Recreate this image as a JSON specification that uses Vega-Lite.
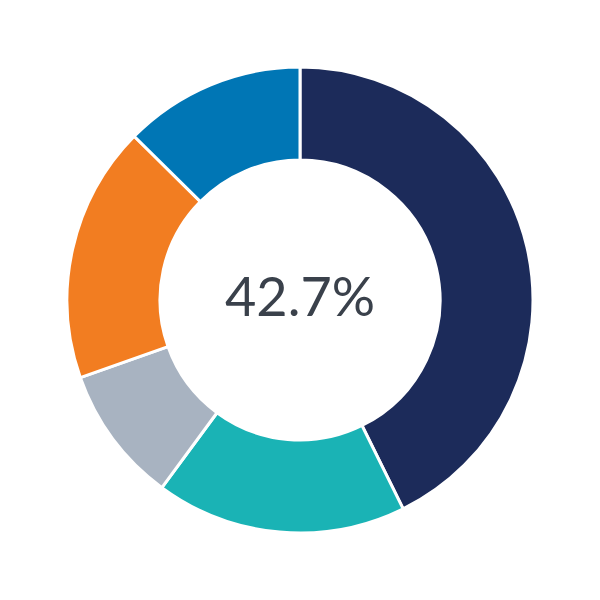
{
  "$schema": "https://vega.github.io/schema/vega-lite/v6.json",
  "width": 600,
  "height": 600,
  "autosize": {"type": "fit", "contains": "padding"},
  "padding": 0,
  "background": "white",
  "view": {"stroke": null},
  "data": {
    "values": [
      {"segment": "A", "rank": 1, "share": 42.7},
      {"segment": "B", "rank": 2, "share": 17.4},
      {"segment": "C", "rank": 3, "share": 9.5},
      {"segment": "D", "rank": 4, "share": 17.8},
      {"segment": "E", "rank": 5, "share": 12.6}
    ]
  },
  "layer": [
    {
      "mark": {"type": "arc", "outerRadius": 233, "innerRadius": 140, "stroke": "white", "strokeWidth": 3},
      "encoding": {
        "theta": {"field": "share", "type": "quantitative", "stack": true},
        "order": {"field": "rank", "type": "quantitative"},
        "color": {
          "field": "segment",
          "type": "nominal",
          "legend": null,
          "scale": {
            "domain": ["A", "B", "C", "D", "E"],
            "range": ["#1c2b5a", "#1ab3b5", "#a8b3c1", "#f27d21", "#0076b5"]
          }
        }
      }
    },
    {
      "data": {"values": [{"label": "42.7%"}]},
      "mark": {"type": "text", "font": "Lato", "fontSize": 54, "fontWeight": 400, "color": "#3a414b", "align": "center", "baseline": "middle"},
      "encoding": {
        "text": {"field": "label", "type": "nominal"}
      }
    }
  ]
}
